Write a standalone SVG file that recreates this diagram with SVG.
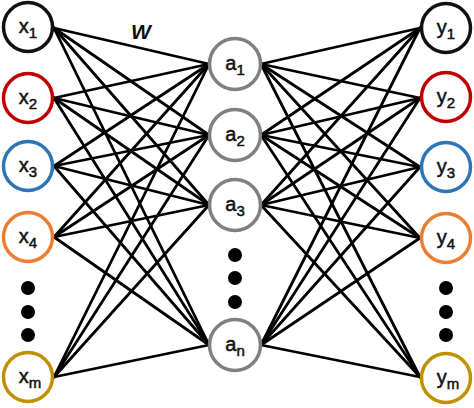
<svg xmlns="http://www.w3.org/2000/svg" width="474" height="408" viewBox="0 0 474 408">
<style>
.n{fill:#fff;stroke-width:3.5}
.k{stroke:#111}.r{stroke:#c00000}.b{stroke:#2e75b6}.o{stroke:#ed7d31}.g{stroke:#bf9000}.m{stroke:#808080}
.t{font-family:"Liberation Sans Narrow","Liberation Sans",Arial,sans-serif;font-size:20px;fill:#111;stroke:#111;stroke-width:0.5;text-anchor:middle}
.s{font-size:15px}
.d{fill:#000}
#edges line{stroke:#000;stroke-width:2.8;stroke-linecap:round}
</style>
<rect width="474" height="408" fill="#fff"/>
<g id="edges">
<line x1="54" y1="28" x2="209" y2="64"/><line x1="54" y1="28" x2="209" y2="135"/><line x1="54" y1="28" x2="209" y2="205"/><line x1="54" y1="28" x2="209" y2="345"/>
<line x1="54" y1="98" x2="209" y2="64"/><line x1="54" y1="98" x2="209" y2="135"/><line x1="54" y1="98" x2="209" y2="205"/><line x1="54" y1="98" x2="209" y2="345"/>
<line x1="54" y1="166" x2="209" y2="64"/><line x1="54" y1="166" x2="209" y2="135"/><line x1="54" y1="166" x2="209" y2="205"/><line x1="54" y1="166" x2="209" y2="345"/>
<line x1="54" y1="237" x2="209" y2="64"/><line x1="54" y1="237" x2="209" y2="135"/><line x1="54" y1="237" x2="209" y2="205"/><line x1="54" y1="237" x2="209" y2="345"/>
<line x1="54" y1="377" x2="209" y2="64"/><line x1="54" y1="377" x2="209" y2="135"/><line x1="54" y1="377" x2="209" y2="205"/><line x1="54" y1="377" x2="209" y2="345"/>
<line x1="261" y1="64" x2="420" y2="28"/><line x1="261" y1="64" x2="420" y2="98"/><line x1="261" y1="64" x2="420" y2="167"/><line x1="261" y1="64" x2="420" y2="238"/><line x1="261" y1="64" x2="420" y2="377"/>
<line x1="261" y1="135" x2="420" y2="28"/><line x1="261" y1="135" x2="420" y2="98"/><line x1="261" y1="135" x2="420" y2="167"/><line x1="261" y1="135" x2="420" y2="238"/><line x1="261" y1="135" x2="420" y2="377"/>
<line x1="261" y1="205" x2="420" y2="28"/><line x1="261" y1="205" x2="420" y2="98"/><line x1="261" y1="205" x2="420" y2="167"/><line x1="261" y1="205" x2="420" y2="238"/><line x1="261" y1="205" x2="420" y2="377"/>
<line x1="261" y1="345" x2="420" y2="28"/><line x1="261" y1="345" x2="420" y2="98"/><line x1="261" y1="345" x2="420" y2="167"/><line x1="261" y1="345" x2="420" y2="238"/><line x1="261" y1="345" x2="420" y2="377"/>
</g>
<text x="141" y="39" style="font-family:'Liberation Sans',Arial,sans-serif;font-size:21px;font-style:italic;font-weight:bold;text-anchor:middle;fill:#111">W</text>
<g id="x1"><circle class="n k" cx="28" cy="27" r="24.5"/><text class="t" x="28" y="33">x<tspan class="s" dy="5">1</tspan></text></g>
<g id="x2"><circle class="n r" cx="28" cy="98" r="24.5"/><text class="t" x="28" y="104">x<tspan class="s" dy="5">2</tspan></text></g>
<g id="x3"><circle class="n b" cx="28" cy="166" r="24.5"/><text class="t" x="28" y="172">x<tspan class="s" dy="5">3</tspan></text></g>
<g id="x4"><circle class="n o" cx="28" cy="237" r="24.5"/><text class="t" x="28" y="243">x<tspan class="s" dy="5">4</tspan></text></g>
<g id="xdots"><circle class="d" cx="28" cy="288" r="7"/><circle class="d" cx="28" cy="312" r="7"/><circle class="d" cx="28" cy="335" r="7"/></g>
<g id="xm"><circle class="n g" cx="28" cy="377" r="24.5"/><text class="t" x="30" y="383">x<tspan class="s" dy="5">m</tspan></text></g>
<g id="a1"><circle class="n m" cx="235" cy="64" r="25.5"/><text class="t" x="235" y="70">a<tspan class="s" dy="5">1</tspan></text></g>
<g id="a2"><circle class="n m" cx="235" cy="135" r="25.5"/><text class="t" x="235" y="141">a<tspan class="s" dy="5">2</tspan></text></g>
<g id="a3"><circle class="n m" cx="235" cy="205" r="25.5"/><text class="t" x="235" y="211">a<tspan class="s" dy="5">3</tspan></text></g>
<g id="adots"><circle class="d" cx="235" cy="255" r="7"/><circle class="d" cx="235" cy="278" r="7"/><circle class="d" cx="235" cy="302" r="7"/></g>
<g id="an"><circle class="n m" cx="235" cy="345" r="25.5"/><text class="t" x="235" y="351">a<tspan class="s" dy="5">n</tspan></text></g>
<g id="y1"><circle class="n k" cx="446" cy="28" r="24.5"/><text class="t" x="446" y="34">y<tspan class="s" dy="5">1</tspan></text></g>
<g id="y2"><circle class="n r" cx="446" cy="97" r="24.5"/><text class="t" x="446" y="103">y<tspan class="s" dy="5">2</tspan></text></g>
<g id="y3"><circle class="n b" cx="446" cy="167" r="24.5"/><text class="t" x="446" y="173">y<tspan class="s" dy="5">3</tspan></text></g>
<g id="y4"><circle class="n o" cx="446" cy="238" r="24.5"/><text class="t" x="446" y="244">y<tspan class="s" dy="5">4</tspan></text></g>
<g id="ydots"><circle class="d" cx="446" cy="288" r="7"/><circle class="d" cx="446" cy="312" r="7"/><circle class="d" cx="446" cy="335" r="7"/></g>
<g id="ym"><circle class="n g" cx="446" cy="378" r="24.5"/><text class="t" x="448" y="384">y<tspan class="s" dy="5">m</tspan></text></g>
</svg>
